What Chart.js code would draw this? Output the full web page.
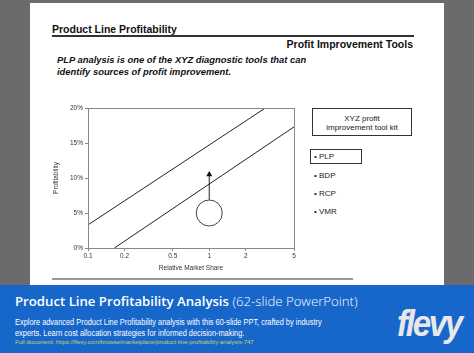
<!DOCTYPE html>
<html>
<head>
<meta charset="utf-8">
<script src="https://cdn.jsdelivr.net/npm/chart.js@4"></script>
<style>
  html, body { margin: 0; padding: 0; }
  body { width: 474px; height: 353px; background: #6b6b6b; position: relative; overflow: hidden;
         font-family: "Liberation Sans", Arial, sans-serif; }
  .abs { position: absolute; white-space: nowrap; }
  #slide { left: 30px; top: 3px; width: 414px; height: 282px; background: #fff; }
  #banner { left: 0; top: 285px; width: 474px; height: 68px; background: #1766c9; }
  .box { border: 1px solid #333; box-sizing: border-box; }
</style>
</head>
<body>
<div id="slide" class="abs"></div>

<div class="abs" style="left:52px; top:23px; font-size:10.5px; font-weight:bold; color:#111;">Product Line Profitability</div>
<div class="abs" style="left:52px; top:35px; width:362px; height:2px; background:#333;"></div>
<div class="abs" style="right:61px; top:38px; font-size:10.5px; font-weight:bold; color:#111;">Profit Improvement Tools</div>
<div class="abs" style="left:57px; top:54px; font-size:9.4px; font-weight:bold; font-style:italic; color:#111; line-height:12px;">PLP analysis is one of the XYZ diagnostic tools that can<br>identify sources of profit improvement.</div>

<div class="abs box" style="left:312px; top:108px; width:100px; height:28px; font-size:8px; color:#222; text-align:center; line-height:9px; padding-top:5px;">XYZ profit<br>improvement tool kit</div>
<div class="abs box" style="left:310px; top:149px; width:52px; height:15px;"></div>
<div class="abs" style="left:314px; top:152px; font-size:8px; color:#222;">&bull; PLP</div>
<div class="abs" style="left:314px; top:171px; font-size:8px; color:#222;">&bull; BDP</div>
<div class="abs" style="left:314px; top:189px; font-size:8px; color:#222;">&bull; RCP</div>
<div class="abs" style="left:314px; top:207px; font-size:8px; color:#222;">&bull; VMR</div>

<div class="abs" style="left:52px; top:278px; width:301px; height:1.5px; background:#999;"></div>

<canvas id="chart" class="abs" width="254" height="176" style="left:48px; top:100px;"></canvas>

<div id="banner" class="abs"></div>
<div class="abs" style="left:15px; top:292px; font-family:'Open Sans', sans-serif; font-size:13.2px; color:#fff;"><span style="font-weight:600;">Product Line Profitability Analysis</span> <span style="font-weight:300;">(62-slide PowerPoint)</span></div>
<div class="abs" style="left:15px; top:317px; font-size:8.5px; color:#fff; line-height:11px; transform:scaleX(0.87); transform-origin:left top;">Explore advanced Product Line Profitability analysis with this 60-slide PPT, crafted by industry<br>experts. Learn cost allocation strategies for informed decision-making.</div>
<div class="abs" style="left:15px; top:339px; font-size:6px; color:#c9d46a;">Full document: https://flevy.com/browse/marketplace/product-line-profitability-analysis-747</div>
<div class="abs" style="left:397px; top:303px; font-size:36px; font-weight:bold; font-style:italic; color:#e8e8e8; letter-spacing:-2.5px; transform:scaleX(0.92); transform-origin:left top;">flevy</div>

<script>
const xTickValues = [0.1, 0.2, 0.5, 1, 2, 5];
const yTickValues = [0, 5, 10, 15, 20];

// iso-profit lines (relative market share, profitability %)
const upperLineX = [0.1, 2.9];
const upperLineY = [3.3, 20];
const lowerLineX = [0.165, 5];
const lowerLineY = [0, 17.3];

// product line position and improvement arrow
const productX = [1];
const productY = [5];
const arrowX = [1, 1];
const arrowY = [6.9, 10.5];

const toPoints = (xs, ys) => xs.map((x, i) => ({ x: x, y: ys[i] }));

const framePlugin = {
    id: 'frame',
    afterDraw(chart) {
        const a = chart.chartArea;
        const ctx = chart.ctx;
        ctx.save();
        ctx.strokeStyle = '#888';
        ctx.lineWidth = 1;
        ctx.strokeRect(Math.round(a.left) + 0.5, Math.round(a.top) + 0.5,
                       Math.round(a.right - a.left), Math.round(a.bottom - a.top));
        ctx.restore();
    }
};

Chart.defaults.font.family = '"Liberation Sans", Arial, sans-serif';
Chart.defaults.color = '#333';

new Chart(document.getElementById('chart').getContext('2d'), {
    type: 'scatter',
    data: {
        datasets: [
            {
                data: toPoints(upperLineX, upperLineY),
                showLine: true, borderColor: '#222', borderWidth: 1, pointRadius: 0
            },
            {
                data: toPoints(lowerLineX, lowerLineY),
                showLine: true, borderColor: '#222', borderWidth: 1, pointRadius: 0
            },
            {
                data: toPoints(arrowX, arrowY),
                showLine: true, borderColor: '#222', borderWidth: 1,
                pointRadius: [0, 3.5], pointStyle: 'triangle',
                pointBackgroundColor: '#111', pointBorderColor: '#111', pointBorderWidth: 0
            },
            {
                data: toPoints(productX, productY),
                pointRadius: 13, pointStyle: 'circle',
                pointBackgroundColor: 'rgba(255,255,255,0)', pointBorderColor: '#444', pointBorderWidth: 1
            }
        ]
    },
    options: {
        responsive: false,
        animation: false,
        devicePixelRatio: 1,
        layout: { autoPadding: false, padding: { top: 8, right: 8, left: 0, bottom: 0 } },
        plugins: { legend: { display: false }, tooltip: { enabled: false } },
        scales: {
            x: {
                type: 'logarithmic',
                min: 0.1,
                max: 5,
                afterBuildTicks: scale => { scale.ticks = xTickValues.map(v => ({ value: v })); },
                afterFit: scale => { scale.height = 28; },
                ticks: { font: { size: 6.5 }, padding: 1, callback: v => String(v), maxRotation: 0 },
                grid: { drawOnChartArea: false, tickLength: 3, color: '#888' },
                border: { color: '#888' },
                title: { display: true, text: 'Relative Market Share', font: { size: 6.5 }, padding: { top: 4, bottom: 4 } }
            },
            y: {
                min: 0,
                max: 20,
                afterBuildTicks: scale => { scale.ticks = yTickValues.map(v => ({ value: v })); },
                afterFit: scale => { scale.width = 40; },
                ticks: { font: { size: 6.5 }, padding: 2, callback: v => v + '%' },
                grid: { drawOnChartArea: false, tickLength: 3, color: '#888' },
                border: { color: '#888' },
                title: { display: true, text: 'Profitability', font: { size: 6.5 }, padding: { top: 4, bottom: 4 } }
            }
        }
    },
    plugins: [framePlugin]
});
</script>
</body>
</html>
